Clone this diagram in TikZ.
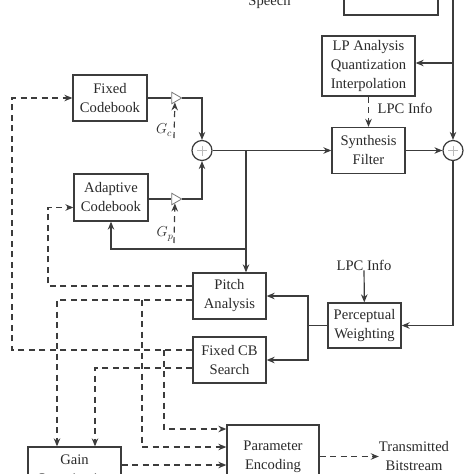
\documentclass[tikz,border=0pt]{standalone}
\usepackage{fontspec}
\setmainfont{Liberation Serif}
\usetikzlibrary{arrows.meta,calc,shapes.geometric}
\definecolor{lc}{HTML}{3C3C3C}
\definecolor{tc}{HTML}{2A2A2A}
\begin{document}
\begin{tikzpicture}[x=1pt,y=-1pt,
  font=\fontsize{14.6}{19}\selectfont,
  blk/.style={draw=lc, line width=1.3pt, fill=white, align=center, inner sep=0pt, text=tc},
  lbl/.style={align=center, inner sep=0pt, text=tc},
  wire/.style={draw=lc, line width=1.2pt},
  conn/.style={wire, -{Stealth[length=8pt,width=6.5pt]}},
  dconn/.style={conn, dash pattern=on 6pt off 4.5pt},
  sumnode/.style={circle, draw=lc, line width=1.2pt, minimum size=20pt, inner sep=0pt, fill=white},
  amp/.style={isosceles triangle, draw=lc!70, line width=0.8pt, minimum width=7pt, minimum height=10pt, inner sep=0pt, isosceles triangle apex angle=60, fill=white}]
\useasboundingbox (0,0) rectangle (474,474);
\clip (0,0) rectangle (474,474);
% blocks
\node[blk, minimum width=94pt, minimum height=36pt] (topbox) at (391,-3) {};
\node[lbl, anchor=base] (speech) at (269.5,5) {Speech};
\node[blk, minimum width=74pt, minimum height=46pt] (fcb) at (110,98) {Fixed\\Codebook};
\node[blk, minimum width=74pt, minimum height=47pt] (acb) at (111,197.5) {Adaptive\\Codebook};
\node[blk, minimum width=93pt, minimum height=60pt] (lpa) at (368.5,66) {LP Analysis\\Quantization\\Interpolation};
\node[blk, minimum width=73pt, minimum height=46pt] (syn) at (368.5,150.5) {Synthesis\\Filter};
\node[blk, minimum width=73pt, minimum height=45pt] (pw) at (364.5,325.5) {Perceptual\\Weighting};
\node[blk, minimum width=73pt, minimum height=46pt] (pa) at (229.5,296) {Pitch\\Analysis};
\node[blk, minimum width=73pt, minimum height=46pt] (fcs) at (229.5,360) {Fixed CB\\Search};
\node[blk, minimum width=93pt, minimum height=46pt] (gq) at (74.5,470) {Gain\\Quantization};
\node[blk, minimum width=92pt, minimum height=63pt] (pe) at (273,456.5) {Parameter\\Encoding};
\node[lbl] (tb) at (414,456.5) {Transmitted\\Bitstream};
\node[lbl] (lpc1) at (405,108) {LPC Info};
\node[lbl] (lpc2) at (364,265) {LPC Info};
% summers
\node[sumnode] (sum1) at (202,150.5) {};
\node[sumnode] (sum2) at (453,150.5) {};
\foreach \s in {sum1,sum2}{
  \draw[lc!35, line width=0.7pt] ($(\s)+(-5,0)$) -- ($(\s)+(5,0)$) ($(\s)+(0,-5)$) -- ($(\s)+(0,5)$);
}
% gain amplifiers
\node[amp] (gc) at (175,98) {};
\node[amp] (gp) at (175,199) {};
\node[lbl] (gcl) at (164,130) {$G_c$};
\node[lbl] (gpl) at (165,234) {$G_p$};
\coordinate (gcs) at (174,138);
\coordinate (gps) at (174,243);
% solid connectors
\draw[wire] (fcb) -- (gc);
\draw[conn] (gc) -| (sum1);
\draw[wire] (acb.east |- gp) -- (gp);
\draw[conn] (gp) -| (sum1);
\draw[dconn] (gcs) -- (gc);
\draw[dconn] (gps) -- (gp);
\draw[conn] (sum1) -- (syn);
\draw[conn] (syn) -- (sum2);
\coordinate (inp) at (453,-10);
\draw[conn] (inp) -- (sum2);
\coordinate (lpb) at (453,63);
\draw[conn] (lpb) -- (lpa.east |- lpb);
\draw[dconn] (lpa) -- (syn);
\draw[conn] (sum2) |- (pw);
\draw[conn] (lpc2) -- (pw);
\coordinate (pwj) at (308,325.5);
\draw[wire] (pw) -- (pwj);
\draw[conn] (pwj) |- (pa);
\draw[conn] (pwj) |- (fcs);
\coordinate (j1) at (246,150.5);
\draw[conn] (j1) -- (j1 |- pa.north);
\coordinate (j2) at (246,249);
\draw[conn] (j2) -| (acb);
% dashed control connectors
\coordinate (fcsA) at ($(fcs.west)+(0,-10)$);
\coordinate (fcsB) at ($(fcs.west)+(0,8)$);
\coordinate (paA) at ($(pa.west)+(0,-10)$);
\coordinate (paB) at ($(pa.west)+(0,4)$);
\coordinate (acbA) at ($(acb.west)+(0,10)$);
\coordinate (gqA) at ($(gq.north)+(-17.5,0)$);
\coordinate (gqB) at ($(gq.north)+(20.5,0)$);
\coordinate (gqC) at ($(gq.east)+(0,-5)$);
\coordinate (peA) at ($(pe.west)+(0,-27.5)$);
\coordinate (peB) at ($(pe.west)+(0,-9.5)$);
\coordinate (L1) at (12,350);
\coordinate (L2) at (48,286);
\coordinate (B1) at (142,300);
\coordinate (B2) at (164,350);
\draw[dconn] (fcsA) -- (L1) |- (fcb);
\draw[dconn] (paA) -- (L2) |- (acbA);
\draw[dconn] (paB) -| (gqA);
\draw[dconn] (fcsB) -| (gqB);
\draw[dconn] (B1) |- (peB);
\draw[dconn] (B2) |- (peA);
\draw[dconn] (gqC) -- (gqC -| pe.west);
\draw[dconn] (pe.east |- tb) -- (tb);
\end{tikzpicture}
\end{document}
